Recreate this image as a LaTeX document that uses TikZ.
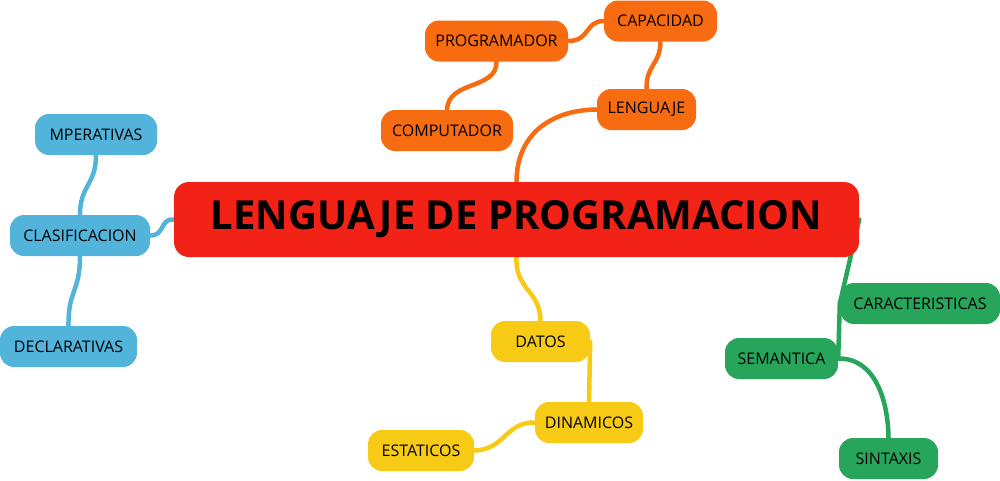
\documentclass[tikz,border=0pt]{standalone}
\usepackage{fontspec}
\setmainfont{Open Sans}
\usetikzlibrary{calc,backgrounds}
\definecolor{rojo}{RGB}{242,35,22}
\definecolor{naranja}{RGB}{247,107,17}
\definecolor{azul}{RGB}{82,180,218}
\definecolor{amarillo}{RGB}{247,203,21}
\definecolor{verde}{RGB}{39,165,90}

\begin{document}
\begin{tikzpicture}
    [
        x=1pt, y=-1pt,
        centro/.style={fill=rojo, rounded corners=15pt, minimum width=685pt, minimum height=75pt,
            inner sep=0pt, font=\fontsize{40}{44}\selectfont\bfseries},
        tema/.style={rounded corners=14pt, minimum height=41pt, inner sep=0pt,
            font=\fontsize{16}{18}\selectfont},
        tnar/.style={tema, fill=naranja},
        tazu/.style={tema, fill=azul},
        tama/.style={tema, fill=amarillo},
        tver/.style={tema, fill=verde},
        rama/.style={line width=4.5pt, line cap=round}
    ]
    \useasboundingbox (0,0) rectangle (1000,480);

    % nodos
    \node[centro] (prog) at (516.5,219.5) {LENGUAJE DE PROGRAMACION};

    \node[tnar, minimum width=143pt] (programador) at (496.5,41) {PROGRAMADOR};
    \node[tnar, minimum width=113pt] (capacidad) at (660.5,21) {CAPACIDAD};
    \node[tnar, minimum width=132pt] (computador) at (447,130.5) {COMPUTADOR};
    \node[tnar, minimum width=99pt] (lenguaje) at (646.5,109.5) {LENGUAJE};

    \node[tazu, minimum width=122pt] (imperativas) at (96,134.5) {MPERATIVAS};
    \node[tazu, minimum width=140pt] (clasificacion) at (80,235.5) {CLASIFICACION};
    \node[tazu, minimum width=137pt] (declarativas) at (68.5,346.5) {DECLARATIVAS};

    \node[tama, minimum width=99pt] (datos) at (540.5,341.5) {DATOS};
    \node[tama, minimum width=108pt] (dinamicos) at (589,422.5) {DINAMICOS};
    \node[tama, minimum width=106pt] (estaticos) at (421,450.5) {ESTATICOS};

    \node[tver, minimum width=160pt] (caracteristicas) at (920,303.5) {CARACTERISTICAS};
    \node[tver, minimum width=113pt] (semantica) at (781.5,358.5) {SEMANTICA};
    \node[tver, minimum width=99pt] (sintaxis) at (888.5,458.5) {SINTAXIS};

    % ramas (detras de los nodos)
    \begin{scope}[on background layer]
        \draw[rama, naranja] (prog.north) .. controls (516.5,135) and (550,110) .. (lenguaje.west);
        \draw[rama, naranja] (lenguaje.north) .. controls (646,65) and (660,65) .. (capacidad.south);
        \draw[rama, naranja] (capacidad.west) .. controls (585,21) and (590,41) .. (programador.east);
        \draw[rama, naranja] (programador.south) .. controls (497,90) and (448,80) .. (computador.north);

        \draw[rama, azul] (prog.west) .. controls (160,218) and (165,236) .. (clasificacion.east);
        \draw[rama, azul] (clasificacion.north) .. controls (80,185) and (96,185) .. (imperativas.south);
        \draw[rama, azul] (clasificacion.south) .. controls (80,292) and (68,290) .. (declarativas.north);

        \draw[rama, amarillo] (prog.south) .. controls (515,290) and (540,290) .. (datos.north);
        \draw[rama, amarillo] (datos.east) -- (dinamicos.north);
        \draw[rama, amarillo] (dinamicos.west) .. controls (505,422) and (505,450) .. (estaticos.east);

        \draw[rama, verde] (prog.east) -- (caracteristicas.west);
        \draw[rama, verde] (caracteristicas.west) -- (semantica.east);
        \draw[rama, verde] (semantica.east) .. controls (875,358) and (888,400) .. (sintaxis.north);
    \end{scope}
\end{tikzpicture}
\end{document}
